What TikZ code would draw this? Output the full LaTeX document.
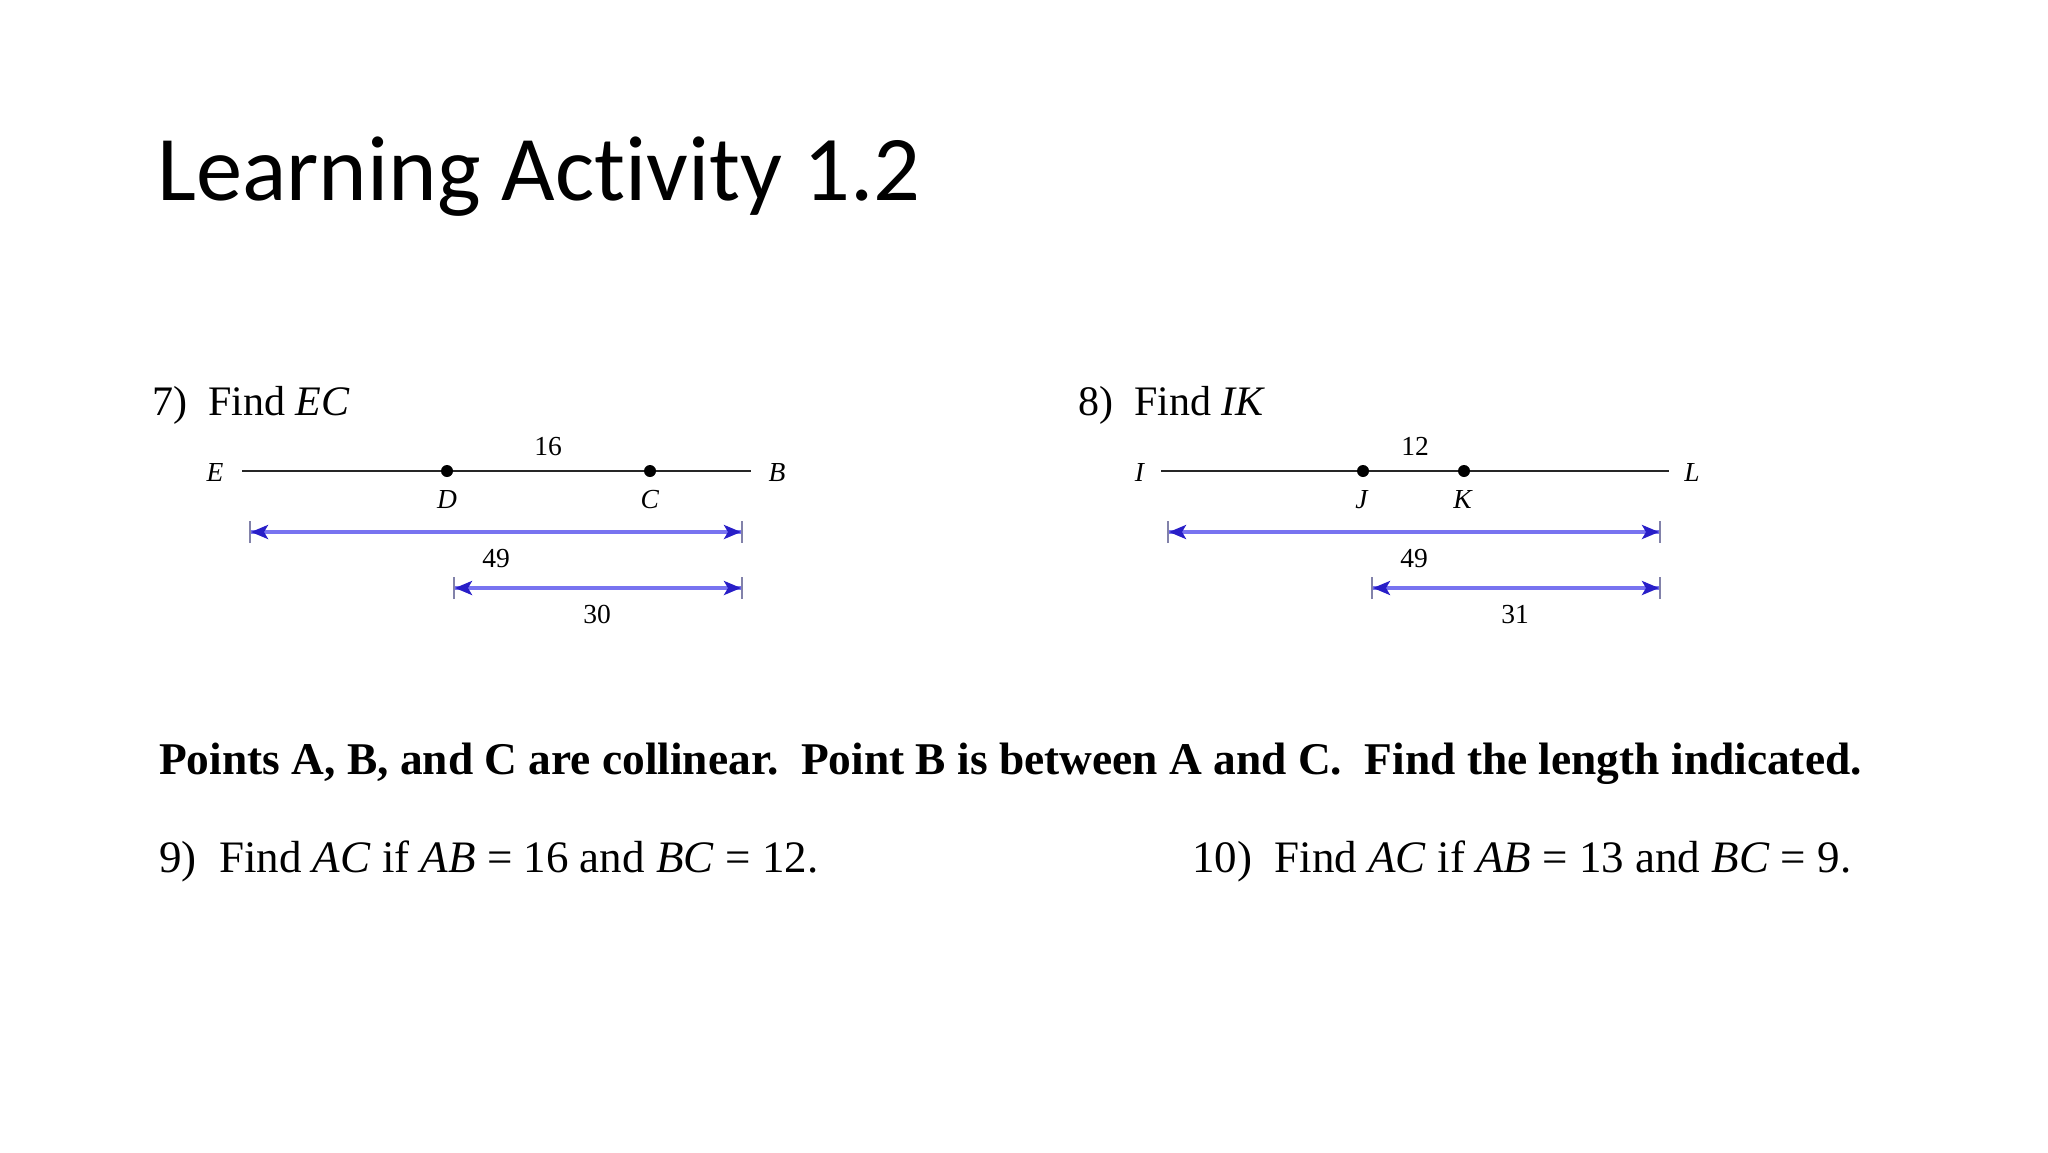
\documentclass[tikz,border=0pt]{standalone}
\usepackage{fontspec}
\setmainfont{Liberation Serif}
\newfontfamily\titlefont[Ligatures=NoCommon]{Carlito}
\usetikzlibrary{arrows.meta}
\definecolor{dimblue}{RGB}{120,115,240}
\definecolor{headblue}{RGB}{40,30,200}
\definecolor{bargray}{RGB}{130,130,170}
\frenchspacing
\begin{document}
\begin{tikzpicture}[x=1pt,y=-1pt,
  txt/.style={inner sep=0pt, anchor=base west},
  lbl/.style={inner sep=0pt, anchor=base, font=\fontsize{27.5}{30}\selectfont},
  ptdot/.style={circle, fill=black, inner sep=0pt, minimum size=12pt},
  seg/.style={line width=2.4pt, black!85},
  dimline/.style={line width=3.4pt, dimblue,
    {Bar[width=22pt,line width=2pt,color=bargray,sep=0pt]Stealth[length=17pt,width=14pt,inset=4pt,color=headblue]}-{Stealth[length=17pt,width=14pt,inset=4pt,color=headblue]Bar[width=22pt,line width=2pt,color=bargray,sep=0pt]}},
  q/.style={txt, font=\fontsize{42}{48}\selectfont},
  p/.style={txt, font=\fontsize{45}{52}\selectfont}
]
\useasboundingbox[fill=white] (0,0) rectangle (2048,1152);

% title
\node[txt, font=\titlefont\fontsize{92.5}{110}\selectfont] (title) at (157,200) {Learning Activity 1.2};

% problem 7
\node[q] (q7) at (152,415) {7)\hspace{0.5em}Find \textit{EC}};
\coordinate (e7) at (242,471);
\coordinate (b7) at (751,471);
\draw[seg] (e7) -- (b7);
\node[ptdot] (D) at (447,471) {};
\node[ptdot] (C) at (650,471) {};
\node[lbl] (lE) at (215,481) {\textit{E}};
\node[lbl] (lB) at (777,481) {\textit{B}};
\node[lbl] (lD) at (447,508) {\textit{D}};
\node[lbl] (lC) at (650,508) {\textit{C}};
\node[lbl] (l16) at (548,455) {16};
\coordinate (a7s) at (249,532);
\coordinate (a7e) at (743,532);
\draw[dimline] (a7s) -- (a7e);
\node[lbl] (l49a) at (496,567) {49};
\coordinate (c7s) at (453,588);
\coordinate (c7e) at (743,588);
\draw[dimline] (c7s) -- (c7e);
\node[lbl] (l30) at (597,623) {30};

% problem 8
\node[q] (q8) at (1078,415) {8)\hspace{0.5em}Find \textit{IK}};
\coordinate (i8) at (1161,471);
\coordinate (l8) at (1669,471);
\draw[seg] (i8) -- (l8);
\node[ptdot] (J) at (1363,471) {};
\node[ptdot] (K) at (1464,471) {};
\node[lbl] (lI) at (1140,481) {\textit{I}};
\node[lbl] (lL) at (1692,481) {\textit{L}};
\node[lbl] (lJ) at (1362,508) {\textit{J}};
\node[lbl] (lK) at (1463,508) {\textit{K}};
\node[lbl] (l12) at (1415,455) {12};
\coordinate (a8s) at (1167,532);
\coordinate (a8e) at (1661,532);
\draw[dimline] (a8s) -- (a8e);
\node[lbl] (l49b) at (1414,567) {49};
\coordinate (c8s) at (1371,588);
\coordinate (c8e) at (1661,588);
\draw[dimline] (c8s) -- (c8e);
\node[lbl] (l31) at (1515,623) {31};

% text
\node[p, font=\bfseries\fontsize{45.4}{52}\selectfont] (stmt) at (159,774)
  {Points A, B, and C are collinear.\hspace{0.5em}Point B is between A and C.\hspace{0.5em}Find the length indicated.};
\node[p] (q9) at (159,872) {9)\hspace{0.5em}Find \textit{AC} if \textit{AB} = 16 and \textit{BC} = 12.};
\node[p] (q10) at (1192,872) {10)\hspace{0.5em}Find \textit{AC} if \textit{AB} = 13 and \textit{BC} = 9.};
\end{tikzpicture}
\end{document}
